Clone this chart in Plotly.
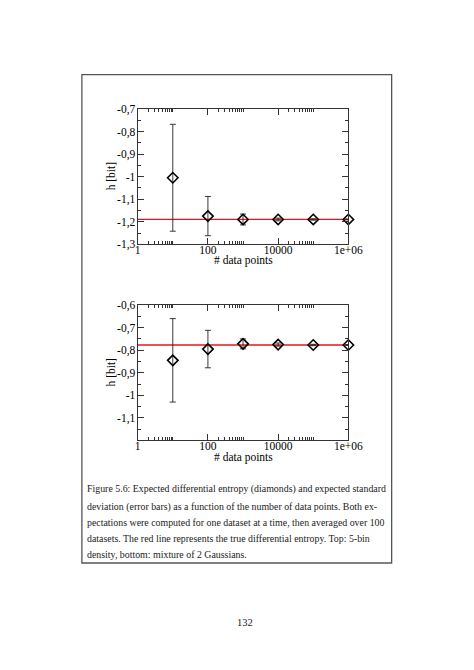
import plotly.graph_objects as go

# data
n_points = [10, 100, 1000, 10000, 100000, 1000000]

top_h = [-1.005, -1.175, -1.19, -1.19, -1.19, -1.19]
top_sd = [0.237, 0.087, 0.024, 0.006, 0.003, 0.002]
top_true = -1.19

bottom_h = [-0.845, -0.795, -0.772, -0.775, -0.777, -0.777]
bottom_sd = [0.185, 0.083, 0.022, 0.007, 0.003, 0.002]
bottom_true = -0.777

x_ticks = [1, 100, 10000, 1000000]
x_ticklabels = ['1', '100', '10000', '1e+06']
top_yticks = [-1.3, -1.2, -1.1, -1.0, -0.9, -0.8, -0.7]
bottom_yticks = [-1.1, -1.0, -0.9, -0.8, -0.7, -0.6]

caption = [
    'Figure 5.6: Expected differential entropy (diamonds) and expected standard',
    'deviation (error bars) as a function of the number of data points. Both ex-',
    'pectations were computed for one dataset at a time, then averaged over 100',
    'datasets. The red line represents the true differential entropy. Top: 5-bin',
    'density, bottom: mixture of 2 Gaussians.',
]
page_number = '132'

W, H = 474, 670
SERIF = 'Liberation Serif, Times New Roman, serif'
FRAME = '#333333'


def ylab(v):
    return ('%g' % v).replace('.', ',')


# minor ticks: 2..10 in the first decade of each 2-decade step
x_minor = []
for d in [1, 100, 10000]:
    x_minor += [d * k for k in range(2, 11)]

fig = go.Figure()

panels = [
    (top_h, top_sd, top_true, 'x', 'y'),
    (bottom_h, bottom_sd, bottom_true, 'x2', 'y2'),
]
for h, sd, true_h, xa, ya in panels:
    fig.add_trace(go.Scatter(
        x=[1, 1000000], y=[true_h, true_h], mode='lines',
        line={'color': '#e8141c', 'width': 1.3},
        xaxis=xa, yaxis=ya, showlegend=False, hoverinfo='skip'
    ))
    fig.add_trace(go.Scatter(
        x=n_points, y=h, mode='markers', cliponaxis=False,
        marker={'symbol': 'diamond-open', 'size': 8, 'color': 'black',
                'line': {'width': 1.6, 'color': 'black'}},
        error_y={'type': 'data', 'array': sd, 'visible': True,
                 'color': '#222222', 'thickness': 0.9, 'width': 3},
        xaxis=xa, yaxis=ya, showlegend=False
    ))


def xaxis(domain, anchor):
    return dict(
        domain=domain, anchor=anchor, type='log', range=[0, 6],
        tickmode='array', tickvals=x_ticks, ticktext=x_ticklabels,
        ticks='inside', ticklen=6, tickwidth=1, tickcolor=FRAME,
        minor=dict(tickmode='array', tickvals=x_minor, ticks='inside',
                   ticklen=3, tickcolor=FRAME, tickwidth=1),
        showline=True, linecolor=FRAME, linewidth=1.2, mirror='ticks',
        showgrid=False, zeroline=False, ticklabelstandoff=-5,
        tickfont=dict(family=SERIF, size=11.5, color='black'),
    )


def yaxis(domain, anchor, rng, ticks):
    minor = [round(rng[0] + 0.05 + 0.1 * i, 3) for i in range(6)]
    return dict(
        domain=domain, anchor=anchor, range=rng,
        tickmode='array', tickvals=ticks, ticktext=[ylab(v) for v in ticks],
        ticks='inside', ticklen=6, tickwidth=1, tickcolor=FRAME,
        minor=dict(tickmode='array', tickvals=minor, ticks='inside',
                   ticklen=3, tickcolor=FRAME, tickwidth=1),
        showline=True, linecolor=FRAME, linewidth=1.2, mirror='ticks',
        showgrid=False, zeroline=False, ticklabelstandoff=-1,
        tickfont=dict(family=SERIF, size=11.5, color='black'),
    )


xd = [140 / W, 359 / W]
top_dom = [1 - 243 / H, 1 - 105 / H]
bot_dom = [1 - 443 / H, 1 - 305 / H]
fig.update_layout(
    width=W, height=H,
    margin=dict(l=0, r=0, t=0, b=0),
    paper_bgcolor='white', plot_bgcolor='white',
    xaxis=xaxis(xd, 'y'),
    yaxis=yaxis(top_dom, 'x', [-1.3, -0.7], top_yticks),
    xaxis2=xaxis(xd, 'y2'),
    yaxis2=yaxis(bot_dom, 'x2', [-1.2, -0.6], bottom_yticks),
)

# axis titles
for dom in [top_dom, bot_dom]:
    fig.add_annotation(text='# data points', xref='paper', yref='paper',
                       x=(xd[0] + xd[1]) / 2, y=dom[0] - 17 / H,
                       xanchor='center', yanchor='middle', showarrow=False,
                       font=dict(family=SERIF, size=11.5, color='black'))
    fig.add_annotation(text='h [bit]', xref='paper', yref='paper',
                       x=112 / W, y=(dom[0] + dom[1]) / 2, textangle=-90,
                       xanchor='center', yanchor='middle', showarrow=False,
                       font=dict(family=SERIF, size=11.5, color='black'))

# page frame
fig.add_shape(type='rect', xref='paper', yref='paper',
              x0=82 / W, x1=404 / W, y0=1 - 568 / H, y1=1 - 70 / H,
              line=dict(color='#555555', width=1.3))

# caption lines
line_y = [493, 511, 527, 543, 559]
for txt, py in zip(caption, line_y):
    fig.add_annotation(text=txt, xref='paper', yref='paper',
                       x=85 / W, y=1 - py / H, xanchor='left', yanchor='middle',
                       showarrow=False,
                       font=dict(family=SERIF, size=9.9, color='#222'))

fig.add_annotation(text=page_number, xref='paper', yref='paper',
                   x=252 / W, y=1 - 629 / H, xanchor='center', yanchor='middle',
                   showarrow=False,
                   font=dict(family=SERIF, size=10.5, color='#222'))

fig.write_html('out.html', config={'displayModeBar': False},
               post_script="document.body.style.margin='0';"
                           "document.body.style.overflow='hidden';")
